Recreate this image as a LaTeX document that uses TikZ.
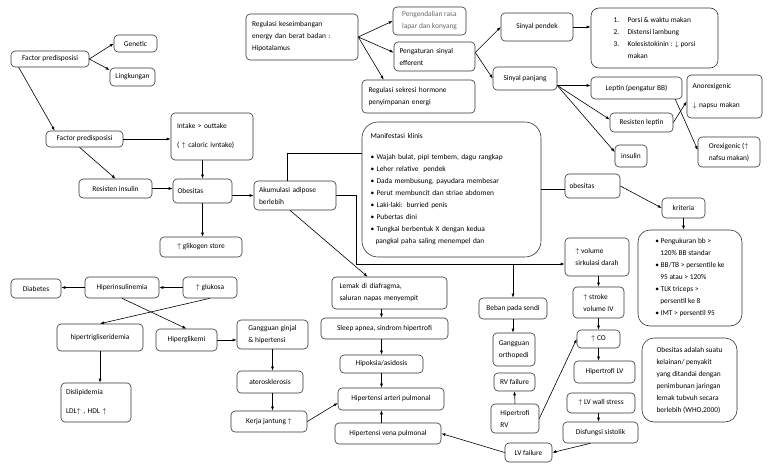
\documentclass[tikz,border=0pt]{standalone}
\usepackage{fontspec}
\setmainfont{Carlito}
\usetikzlibrary{arrows.meta}
\newcommand\kecil{\fontsize{7.4}{12}\selectfont}
\tikzset{
  kotak/.style={draw=black!80, line width=0.6pt, rounded corners=4pt, inner sep=2pt, align=left, font=\kecil},
  ukuran/.style 2 args={minimum width=#1pt, minimum height=#2pt},
  panah/.style={-{Latex[length=4pt,width=3pt]}, line width=0.6pt},
  garis/.style={line width=0.6pt},
}
\begin{document}
\begin{tikzpicture}[x=1pt, y=-1pt]
  \useasboundingbox (0,0) rectangle (768,466);
  % faktor predisposisi dan obesitas
  \node[kotak, ukuran={78}{16}] (fp1) at (50,59) {Factor predisposisi};
  \node[kotak, ukuran={43}{17}] (genetic) at (135.5,43.5) {Genetic};
  \node[kotak, ukuran={45}{18}] (lingkungan) at (132.5,77) {Lingkungan};
  \node[kotak, ukuran={77}{16}] (fp2) at (84.5,139) {Factor predisposisi};
  \node[kotak, ukuran={82}{47}, text width=70pt] (intake) at (212,136.5) {Intake > outtake\\[7pt]( $\uparrow$ caloric ivntake)};
  \node[kotak, ukuran={73}{19}] (resins) at (115.5,188.5) {Resisten insulin};
  \node[kotak, ukuran={59}{24}, text width=50pt] (obes1) at (202.5,191) {Obesitas};
  \node[kotak, ukuran={82}{20}] (glikogen) at (201,247) {$\uparrow$ glikogen store};
  \node[kotak, ukuran={82}{29}, text width=72pt] (akum) at (295,195.5) {Akumulasi adipose\\berlebih};
  % regulasi (atas)
  \node[kotak, ukuran={112}{46}, text width=100pt] (regk) at (302,37) {Regulasi keseimbangan\\energy dan berat badan :\\Hipotalamus};
  \node[kotak, ukuran={73}{28}, text=black!60] (kendali) at (429.5,21) {Pengendalian rasa\\lapar dan konyang};
  \node[kotak, ukuran={81}{29}, text width=70pt] (atur) at (434.5,56.5) {Pengaturan sinyal\\efferent};
  \node[kotak, ukuran={113}{33}, text width=100pt] (regsek) at (418.5,96.5) {Regulasi sekresi hormone\\penyimpanan energi};
  \node[kotak, ukuran={72}{28}] (pendek) at (537,27) {Sinyal pendek};
  \node[kotak, ukuran={64}{23}] (panjang) at (525,78.5) {Sinyal panjang};
  \node[kotak, ukuran={127}{60}, rounded corners=8pt] (porsi) at (654.5,38)
    {\makebox[14pt][l]{1.}Porsi \& waktu makan\\\makebox[14pt][l]{2.}Distensi lambung\\
     \makebox[14pt][l]{3.}Kolesistokinin : $\downarrow$ porsi\\\hspace*{14pt}makan};
  \node[kotak, ukuran={91}{22}] (leptin) at (636.5,88) {Leptin (pengatur BB)};
  \node[kotak, ukuran={75}{43}, text width=64pt] (anorex) at (724.5,96.5) {Anorexigenic\\[7pt]$\downarrow$ napsu makan};
  \node[kotak, ukuran={63}{19}] (reslep) at (641.5,122.5) {Resisten leptin};
  \node[kotak, ukuran={32}{22}] (insulin) at (631,156) {insulin};
  \node[kotak, ukuran={62}{30}] (orex) at (729,152) {Orexigenic ($\uparrow$\\nafsu makan)};
  % manifestasi klinis
  \node[kotak, ukuran={179}{135}, rounded corners=16pt, text width=162pt] (manif) at (451.5,189.5)
    {Manifestasi klinis\\[9pt]
     \textbullet\ Wajah bulat, pipi tembem, dagu rangkap\\
     \textbullet\ Leher relative\ \ pendek\\
     \textbullet\ Dada membusung, payudara membesar\\
     \textbullet\ Perut membuncit dan striae abdomen\\
     \textbullet\ Laki-laki: burried penis\\
     \textbullet\ Pubertas dini\\
     \textbullet\ Tungkai berbentuk X dengan kedua\\
     \hspace*{5pt}pangkal paha saling menempel dan};
  % kriteria dan jantung (kanan)
  \node[kotak, ukuran={55}{24}, text width=46pt] (obes2) at (592.5,186) {obesitas};
  \node[kotak, ukuran={43}{20}] (kriteria) at (683.5,208) {kriteria};
  \node[kotak, ukuran={104}{96}, rounded corners=12pt] (kritlist) at (690,278)
    {\textbullet\ Pengukuran bb >\\\hspace*{5pt}120\% BB standar\\
     \textbullet\ BB/TB > persentile ke\\\hspace*{5pt}95 atau > 120\%\\
     \textbullet\ TLK triceps >\\\hspace*{5pt}persentil ke 8\\
     \textbullet\ IMT > persentil 95};
  \node[kotak, ukuran={64}{38}] (volume) at (597,257) {$\uparrow$ volume\\sirkulasi darah};
  \node[kotak, ukuran={51}{31}] (stroke) at (598.5,302.5) {$\uparrow$ stroke\\volume IV};
  \node[kotak, ukuran={43}{18}] (co) at (598.5,339) {$\uparrow$ CO};
  \node[kotak, ukuran={61}{22}] (hlv) at (604.5,372) {Hipertrofi LV};
  \node[kotak, ukuran={68}{20}] (lvws) at (601,403) {$\uparrow$ LV wall stress};
  \node[kotak, ukuran={75}{21}] (disf) at (600.5,432.5) {Disfungsi sistolik};
  \node[kotak, ukuran={95}{84}, rounded corners=12pt] (definisi) at (689.5,380)
    {Obesitas adalah suatu\\kelainan/ penyakit\\yang ditandai dengan\\penimbunan jaringan\\lemak tubvuh secara\\berlebih (WHO,2000)};
  % tengah bawah
  \node[kotak, ukuran={68}{21}] (beban) at (513,308.5) {Beban pada sendi};
  \node[kotak, ukuran={42}{33}] (orto) at (514,349.5) {Gangguan\\orthopedi};
  \node[kotak, ukuran={41}{18}] (rvf) at (514.5,382) {RV failure};
  \node[kotak, ukuran={48}{29}] (hrv) at (515,418.5) {Hipertrofi\\RV};
  \node[kotak, ukuran={47}{19}] (lvf) at (528.5,452.5) {LV failure};
  \node[kotak, ukuran={115}{32}, text width=100pt] (lemak) at (389.5,293) {Lemak di diafragma,\\saluran napas menyempit};
  \node[kotak, ukuran={127}{21}] (sleep) at (384.5,328.5) {Sleep apnea, sindrom hipertrofi};
  \node[kotak, ukuran={83}{18}] (hipoksia) at (381.5,364) {Hipoksia/asidosis};
  \node[kotak, ukuran={106}{22}] (hap) at (391,399) {Hipertensi arteri pulmonal};
  \node[kotak, ukuran={106}{21}] (hvp) at (388,433.5) {Hipertensi vena pulmonal};
  \node[kotak, ukuran={71}{29}] (ginjal) at (272.5,334.5) {Gangguan ginjal\\\& hipertensi};
  \node[kotak, ukuran={66}{22}] (atero) at (270,382) {aterosklerosis};
  \node[kotak, ukuran={76}{21}] (kerja) at (269,421.5) {Kerja jantung $\uparrow$};
  % kiri bawah
  \node[kotak, ukuran={54}{21}] (glukosa) at (210,287.5) {$\uparrow$ glukosa};
  \node[kotak, ukuran={74}{21}] (hiperins) at (122,287.5) {Hiperinsulinemia};
  \node[kotak, ukuran={50}{19}] (diabetes) at (36,288.5) {Diabetes};
  \node[kotak, ukuran={86}{27}] (hipertg) at (100,337.5) {hipertrigliseridemia};
  \node[kotak, ukuran={61}{22}] (hglik) at (186.5,340) {Hiperglikemi};
  \node[kotak, ukuran={70}{39}, text width=60pt] (dislip) at (96,402.5) {Dislipidemia\\[7pt]LDL$\uparrow$ , HDL $\uparrow$};

  % panah kiri atas
  \draw[panah] (fp1.east) -- (genetic.west);
  \draw[panah] (fp1.east) -- ([yshift=7pt]lingkungan.west);
  \draw[panah] ([xshift=8pt]fp1.south west) -- ([xshift=9pt]fp2.north west);
  \draw[panah] (fp2.east) -- (fp2.east -| intake.west);
  \draw[panah] ([xshift=-5pt]fp2.south) -- (resins.north);
  \draw[panah] (resins.east) -- (resins.east -| obes1.west);
  \draw[panah] (obes1.north |- intake.south) -- (obes1.north);
  \draw[panah] (obes1.south) -- (obes1.south |- glikogen.north);
  \draw[panah] (akum.west -| obes1.east) -- (akum.west);
  % dari akumulasi adipose
  \draw[garis] ([xshift=-8pt]akum.north) |- ([yshift=36pt]manif.west);
  \draw[garis] (manif.east) -- (manif.east -| obes2.west);
  \coordinate (masuk) at ([yshift=-7pt]volume.west);
  \draw[panah] (akum.east) -- ([xshift=20pt]akum.east) |- (masuk);
  \draw[panah] (beban.north |- masuk) -- (beban.north);
  \draw[panah] ([xshift=-5pt]akum.south) -- ([xshift=-22pt]lemak.north);
  % jalur paru
  \foreach \a/\b in {lemak/sleep, sleep/hipoksia, hipoksia/hap}
    \draw[panah] (hipoksia.north |- \a.south) -- (hipoksia.north |- \b.north);
  \draw[panah] (hipoksia.north |- hvp.north) -- (hipoksia.north |- hap.south);
  \draw[panah] (kerja.east) -- ([yshift=-4pt]hap.west);
  \foreach \a/\b in {ginjal/atero, atero/kerja}
    \draw[panah] (ginjal.south |- \a.south) -- (ginjal.south |- \b.north);
  % glukosa dan insulin
  \draw[panah] (hglik.east) -- (hglik.east -| ginjal.west);
  \draw[panah] (glukosa.west) -- (hiperins.east);
  \draw[panah] (hiperins.west) -- (hiperins.west -| diabetes.east);
  \draw[panah] (hiperins.south) -- (hglik.north);
  \draw[panah] (glukosa.south) -- (hipertg.north);
  \draw[panah] (hipertg.south) -- (hipertg.south |- dislip.north);
  % jantung
  \draw[panah] (lvf.west) -- (hvp.east);
  \draw[panah] ([xshift=-10pt]disf.south) -- (lvf.east);
  \draw[panah] (hrv.north) -- (rvf.south);
  \draw[panah] (hrv.east) -- (co.west);
  \draw[panah] (beban.south) -- (beban.south |- orto.north);
  \foreach \a/\b in {volume/stroke, stroke/co, co/hlv, lvws/disf}
    \draw[panah] (co.north |- \a.south) -- (co.north |- \b.north);
  \draw[panah] (obes2.east) -- (kriteria.west);
  \draw[panah] (kriteria.south) -- (kriteria.south |- kritlist.north);
  % regulasi
  \draw[panah] (regk.east) -- (kendali.west);
  \draw[panah] (regk.east) -- ([yshift=4pt]atur.west);
  \draw[panah] (regk.east) -- ([xshift=22pt]regsek.north west);
  \draw[panah] ([yshift=4pt]atur.east) -- (pendek.west);
  \draw[panah] ([yshift=4pt]atur.east) -- (panjang.west);
  \draw[panah] (pendek.east) -- (pendek.east -| porsi.west);
  \coordinate (pj) at ([yshift=-7pt]panjang.east);
  \draw[panah] (pj) -- (pj -| leptin.west);
  \draw[panah] (pj) -- ([yshift=3pt]reslep.west);
  \draw[panah] (pj) -- ([yshift=4pt]insulin.west);
  \draw[panah] ([xshift=-7pt]leptin.south east) -- ([yshift=2pt]orex.west);
  \draw[panah] (reslep.east) -- ([yshift=-5pt]anorex.west);
\end{tikzpicture}
\end{document}
